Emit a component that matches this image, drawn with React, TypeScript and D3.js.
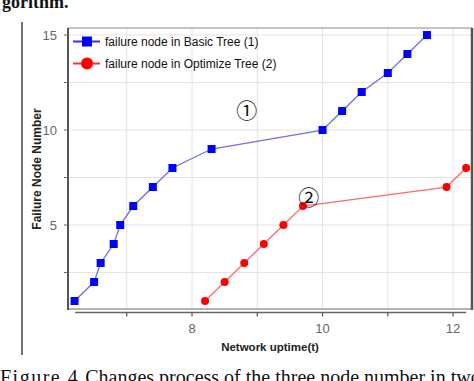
import React from "react";
import * as d3 from "d3";

const basicX = [6.2, 6.5, 6.6, 6.8, 6.9, 7.1, 7.4, 7.7, 8.3, 10.0, 10.3, 10.6, 11.0, 11.3, 11.6];
const basicY = [1, 2, 3, 4, 5, 6, 7, 8, 9, 10, 11, 12, 13, 14, 15];
const optX = [8.2, 8.5, 8.8, 9.1, 9.4, 9.7, 11.9, 12.2];
const optY = [1, 2, 3, 4, 5, 6, 7, 8];
const xTickLabels = [8, 10, 12];
const xTicks = [7, 8, 9, 10, 11, 12];
const yTickLabels = [5, 10, 15];
const yTicks = [2.5, 5, 7.5, 10, 12.5, 15];
const seriesNames = ["failure node in Basic Tree (1)", "failure node in Optimize Tree (2)"];
const annotations = [
  { label: "\u2460", x: 8.84, y: 11.05 },
  { label: "\u2461", x: 9.79, y: 6.45 },
];

const W = 474;
const H = 381;
const L = 68, R = 472, T = 28, B = 309;

export default function App() {
  const x = d3.scaleLinear().domain([6.1, 12.29]).range([L, R]);
  const y = d3.scaleLinear().domain([0.58, 15.37]).range([B, T]);
  const line = d3
    .line<[number, number]>()
    .x((d) => x(d[0]))
    .y((d) => y(d[1]));
  const basic: [number, number][] = basicX.map((v, i) => [v, basicY[i]]);
  const opt: [number, number][] = optX.map((v, i) => [v, optY[i]]);
  const font = "'Liberation Sans', Arial, sans-serif";
  const axisY = B + 3.5;

  return (
    <svg
      width={W}
      height={H}
      style={{ position: "absolute", left: 0, top: 0, background: "#fff" }}
      fontFamily={font}
    >
      {/* surrounding page fragments */}
      <text x={2} y={8} fontFamily="'Liberation Serif', serif" fontWeight="bold" fontSize={18} fill="#111">
        gorithm.
      </text>
      <text x={0} y={384} fontFamily="'Liberation Serif', serif" fontSize={20} fill="#111">
        <tspan letterSpacing={1.5}>Figure 4</tspan>
        <tspan dx={6}>Changes process of the three node number in two trees</tspan>
      </text>
      <line x1={22} x2={22} y1={22} y2={355} stroke="#444" strokeWidth={1.5} />

      {/* grid */}
      {xTicks.map((t) => (
        <line key={"gx" + t} x1={x(t)} x2={x(t)} y1={T} y2={B} stroke="#e4e4e4" strokeWidth={1} />
      ))}
      {yTicks.map((t) => (
        <line key={"gy" + t} x1={L} x2={R} y1={y(t)} y2={y(t)} stroke="#e4e4e4" strokeWidth={1} />
      ))}

      {/* frame */}
      <line x1={L} x2={R} y1={T} y2={T} stroke="#888" strokeWidth={1} />
      <line x1={L} x2={R} y1={B} y2={B} stroke="#999" strokeWidth={1.5} />
      <line x1={R} x2={R} y1={T} y2={B + 1} stroke="#555" strokeWidth={2.5} />
      <line x1={L} x2={L} y1={T} y2={B + 1} stroke="#555" strokeWidth={2} />

      {/* y ticks */}
      {yTicks.map((t) => (
        <line key={"ty" + t} x1={L - 4} x2={L} y1={y(t)} y2={y(t)} stroke="#666" strokeWidth={1} />
      ))}
      {yTickLabels.map((t) => (
        <text key={"ly" + t} x={L - 11} y={y(t)} dy="0.35em" textAnchor="end" fontSize={13} fill="#666">
          {t}
        </text>
      ))}

      {/* x axis */}
      <line x1={x(6.21)} x2={x(12.2)} y1={axisY} y2={axisY} stroke="#666" strokeWidth={1.5} />
      {xTicks.map((t) => (
        <line key={"tx" + t} x1={x(t)} x2={x(t)} y1={axisY} y2={axisY + 4} stroke="#555" strokeWidth={1.2} />
      ))}
      {xTickLabels.map((t) => (
        <text key={"lx" + t} x={x(t)} y={333} textAnchor="middle" fontSize={13} fill="#666">
          {t}
        </text>
      ))}

      {/* axis titles */}
      <text x={270} y={351} textAnchor="middle" fontSize={11.5} fontWeight="bold" fill="#222">
        Network uptime(t)
      </text>
      <text
        transform={`translate(37,169) rotate(-90)`}
        textAnchor="middle"
        dy="0.35em"
        fontSize={12}
        fontWeight="bold"
        fill="#222"
      >
        Failure Node Number
      </text>

      {/* series */}
      <path d={line(basic) ?? ""} fill="none" stroke="#7070e8" strokeWidth={1.3} />
      <path d={line(opt) ?? ""} fill="none" stroke="#ff6a6a" strokeWidth={1.3} />
      {basic.map((d, i) => (
        <rect key={"b" + i} x={x(d[0]) - 4} y={y(d[1]) - 4} width={8} height={8} fill="#0000ff" />
      ))}
      {opt.map((d, i) => (
        <circle key={"o" + i} cx={x(d[0])} cy={y(d[1])} r={4} fill="#ff0000" />
      ))}

      {/* annotations */}
      {annotations.map((a) => (
        <text
          key={a.label}
          x={x(a.x)}
          y={y(a.y)}
          dy="0.38em"
          textAnchor="middle"
          fontSize={21}
          fontFamily="'Noto Sans CJK JP', 'DejaVu Sans', sans-serif"
          fill="#111"
        >
          {a.label}
        </text>
      ))}

      {/* legend */}
      {seriesNames.map((name, i) => {
        const cy = 41.5 + i * 22;
        return (
          <g key={name}>
            <line x1={73} x2={100} y1={cy} y2={cy} stroke={i === 0 ? "#3030ff" : "#ff3030"} strokeWidth={2} />
            {i === 0 ? (
              <rect x={82} y={cy - 5} width={10} height={10} fill="#0000ff" />
            ) : (
              <circle cx={87} cy={cy} r={6} fill="#ff0000" />
            )}
            <text x={105} y={cy} dy="0.35em" fontSize={12} fill="#111">
              {name}
            </text>
          </g>
        );
      })}
    </svg>
  );
}
